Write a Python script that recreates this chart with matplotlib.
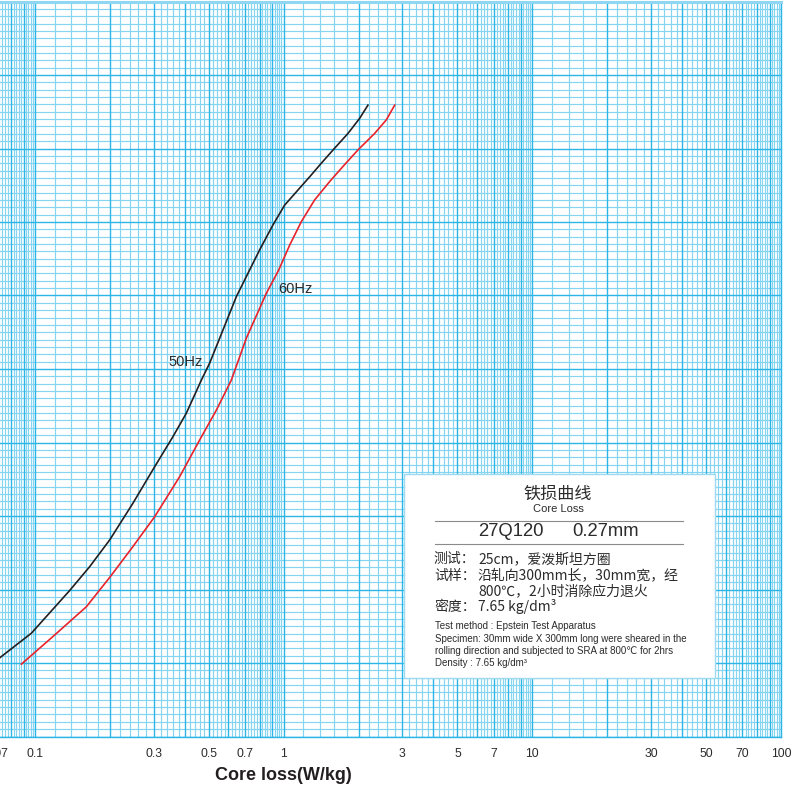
import numpy as np
import matplotlib
matplotlib.use("Agg")
import matplotlib.pyplot as plt
import matplotlib.patches as mpatches
from matplotlib.ticker import FixedLocator, FuncFormatter, NullFormatter

# core loss (W/kg) vs induction (unlabelled 0..2 scale)
loss_50 = [0.0721, 0.0967, 0.1378, 0.1659, 0.1998, 0.2478, 0.3029, 0.3588,
           0.4063, 0.4669, 0.504, 0.570, 0.6454, 0.8005, 0.9057, 1.0093,
           1.1248, 1.2725, 1.4176, 1.604, 1.8141, 2.021, 2.183]
b_50 = [0.214, 0.281, 0.397, 0.462, 0.535, 0.635, 0.734, 0.816,
        0.880, 0.970, 1.016, 1.106, 1.197, 1.324, 1.392, 1.446,
        1.482, 1.523, 1.560, 1.601, 1.641, 1.682, 1.718]

loss_60 = [0.0882, 0.1181, 0.1609, 0.1998, 0.2478, 0.3029, 0.3818, 0.4596,
           0.5362, 0.6162, 0.7079, 0.8519, 0.9548, 1.0571, 1.1779, 1.3323,
           1.531, 1.7312, 1.9895, 2.3222, 2.5882, 2.795]
b_60 = [0.197, 0.272, 0.353, 0.433, 0.517, 0.598, 0.707, 0.807,
        0.888, 0.970, 1.084, 1.206, 1.269, 1.337, 1.401, 1.460,
        1.510, 1.551, 1.596, 1.641, 1.678, 1.718]

x_labelled = [1, 3, 5, 7]   # mantissas that get a tick label
decades = [0.01, 0.1, 1, 10]

GRID_MAJ = '#2cb5e7'
GRID_MIN = '#84d4f2'
TXT = '#2b2b2b'
W = H = 800

def fx(px): return px / W
def fy(py): return 1 - py / H

fig = plt.figure(figsize=(8, 8), dpi=100, facecolor='white')

# axes runs from 0.01 (off the left edge) to 100
left_px, right_px, top_px, bot_px = -213.7, 781, 1.5, 736.5
ax = fig.add_axes((fx(left_px), fy(bot_px), (right_px-left_px)/W, (bot_px-top_px)/H))
ax.set_xscale('log')
ax.set_xlim(0.01, 100)
ax.set_ylim(0, 2.0)

# log graph-paper grid
x_major = [d * s for d in decades for s in range(1, 10)] + [100]
x_minor = [d * s for d in decades for s in np.arange(1.2, 10, 0.2)
           if abs(s - round(s)) > 1e-6]
y_major = np.arange(0, 2.0001, 0.2)
y_minor = [v for v in np.arange(0, 2.0001, 0.02) if abs(v / 0.2 - round(v / 0.2)) > 1e-6]

for v in x_minor:
    ax.axvline(v, color=GRID_MIN, lw=0.85, zorder=0)
for v in y_minor:
    ax.axhline(v, color=GRID_MIN, lw=0.85, zorder=0)
for v in x_major:
    ax.axvline(v, color=GRID_MAJ, lw=1.0, zorder=0.5)
for v in y_major:
    ax.axhline(v, color=GRID_MAJ, lw=1.0, zorder=0.5)

ax.xaxis.set_major_locator(FixedLocator(x_major))
ax.xaxis.set_minor_locator(FixedLocator([]))

def xfmt(v, pos):
    m = v / 10 ** np.floor(np.log10(v) + 1e-9)
    if any(abs(m - k) < 1e-6 for k in x_labelled):
        return f"{v:g}"
    return ""
ax.xaxis.set_major_formatter(FuncFormatter(xfmt))
ax.xaxis.set_minor_formatter(NullFormatter())
ax.set_yticks([])
ax.tick_params(which='both', length=0)
ax.tick_params(axis='x', pad=8.5, labelsize=8.7, labelcolor=TXT)
for lab in ax.get_xticklabels():
    lab.set_family('Liberation Sans')
for s in ax.spines.values():
    s.set_color(GRID_MAJ); s.set_linewidth(1.0)
ax.spines['top'].set_linewidth(2.2)
ax.spines['top'].set_color('#8fd6f2')

ax.plot(loss_50, b_50, color='#231f20', lw=1.2, zorder=3, solid_joinstyle='round')
ax.plot(loss_60, b_60, color='#e8232b', lw=1.2, zorder=3, solid_joinstyle='round')

ax.set_xlabel('Core loss(W/kg)', fontsize=13, fontweight='bold', color='#231f20',
              family='Liberation Sans', labelpad=5)

fig.text(fx(186), fy(362), '50Hz', fontsize=10.5, color=TXT, ha='center', va='center',
         family='Liberation Sans')
fig.text(fx(295), fy(289), '60Hz', fontsize=10.5, color=TXT, ha='center', va='center',
         family='Liberation Sans')

# info box
box = mpatches.Rectangle((fx(403.5), fy(678)), (714.5-403.5)/W, (678-474)/H,
                         transform=fig.transFigure, facecolor='white',
                         edgecolor='#9edbf1', lw=1.0, zorder=2)
fig.add_artist(box)
for yy in (520.7, 544):
    fig.add_artist(plt.Line2D([fx(435), fx(683)], [fy(yy), fy(yy)],
                              transform=fig.transFigure, color='#8a8a8a', lw=0.8, zorder=3))

cjk = ['Noto Sans CJK SC', 'DejaVu Sans']
lat = ['Liberation Sans', 'DejaVu Sans']
fig.text(fx(558), fy(494), '铁损曲线', fontsize=12.3, family=cjk, color=TXT, ha='center', va='center', zorder=4)
fig.text(fx(558), fy(509.5), 'Core Loss', fontsize=8, family=lat, color=TXT, ha='center', va='center', zorder=4)
fig.text(fx(511), fy(532), '27Q120', fontsize=13.3, family=lat, color=TXT, ha='center', va='center', zorder=4)
fig.text(fx(606), fy(532), '0.27mm', fontsize=13.3, family=lat, color=TXT, ha='center', va='center', zorder=4)

rows = [(559, '测试：', '25cm，爱泼斯坦方圈'),
        (576, '试样：', '沿轧向300mm长，30mm宽，经'),
        (591, '', '800℃，2小时消除应力退火'),
        (607, '密度：', '7.65 kg/dm³')]
for yy, key, val in rows:
    if key:
        fig.text(fx(434), fy(yy), key, fontsize=10, family=cjk, color=TXT, ha='left', va='center', zorder=4)
    fig.text(fx(478), fy(yy), val, fontsize=10, family=cjk, color=TXT, ha='left', va='center', zorder=4)

notes = [(626, 'Test method : Epstein Test Apparatus'),
         (638.5, 'Specimen: 30mm wide X 300mm long were sheared in the'),
         (650.5, 'rolling direction and subjected to SRA at 800℃ for 2hrs'),
         (662.5, 'Density : 7.65 kg/dm³')]
for yy, t in notes:
    fig.text(fx(435), fy(yy), t, fontsize=7.0, family=lat, color=TXT, ha='left', va='center', zorder=4)

fig.savefig('out.png', dpi=100, facecolor='white')
